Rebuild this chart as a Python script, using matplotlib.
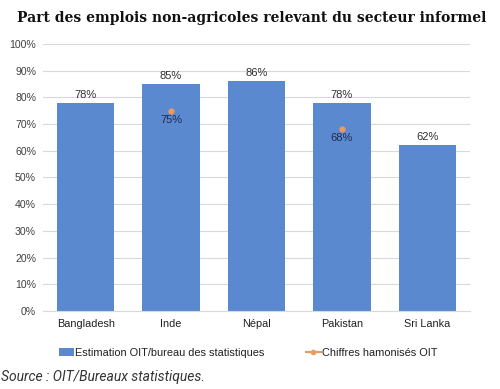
import numpy as np
import matplotlib
matplotlib.use('Agg')
import matplotlib.pyplot as plt
from matplotlib.lines import Line2D
from matplotlib.patches import Patch

countries = ['Bangladesh', 'Inde', 'Népal', 'Pakistan', 'Sri Lanka']
estimation = [78, 85, 86, 78, 62]
harmonised = [np.nan, 75, np.nan, 68, np.nan]
yticks = list(range(0, 101, 10))

bar_color = '#5b89cf'
dot_color = '#ed9a5c'
text_color = '#404040'

fig = plt.figure(figsize=(5.0, 3.89), dpi=100)
fig.patch.set_facecolor('white')
ax = fig.add_axes([0.086, 0.2005, 0.854, 0.6865])

x = np.arange(len(countries))
ax.bar(x, estimation, width=0.67, color=bar_color, zorder=2)
ax.plot(x, harmonised, marker='o', markersize=3.5, color=dot_color, linestyle='none', zorder=3)

for xi, v in zip(x, estimation):
    ax.text(xi, v + 1.2, f'{v}%', ha='center', va='bottom', fontsize=8,
            family='Liberation Sans', color='#303030')
for xi, v in zip(x, harmonised):
    if not np.isnan(v):
        ax.text(xi, v - 1.5, f'{int(v)}%', ha='center', va='top', fontsize=8,
                family='Liberation Sans', color='#1f2f50')

ax.set_xlim(-0.5, len(countries) - 0.5)
ax.set_ylim(0, 100)
ax.set_yticks(yticks)
ax.set_yticklabels([f'{t}%' for t in yticks], fontsize=7.6, family='Liberation Sans', color=text_color)
ax.set_xticks(x)
ax.set_xticklabels(countries, fontsize=7.8, family='Liberation Sans', color='#202020')
ax.tick_params(axis='both', length=0, pad=6)
ax.tick_params(axis='y', pad=5)
ax.grid(axis='y', color='#d9d9d9', linewidth=0.8, zorder=0)
for side in ['top', 'right', 'left']:
    ax.spines[side].set_visible(False)
ax.spines['bottom'].set_color('#d9d9d9')

fig.text(0.504, 0.955, 'Part des emplois non-agricoles relevant du secteur informel',
         ha='center', va='center', fontsize=10, fontweight='bold',
         family='DejaVu Serif', color='#111111')

handles = [Patch(facecolor=bar_color, label='Estimation OIT/bureau des statistiques'),
           Line2D([0], [0], color=dot_color, marker='o', markersize=3, linewidth=1.5,
                  label='Chiffres hamonisés OIT')]
leg = fig.legend(handles=handles, loc='center', bbox_to_anchor=(0.497, 0.093), ncol=2,
                 frameon=False, columnspacing=3.8, handlelength=1.3,
                 handletextpad=0.15, prop={'family': 'Liberation Sans', 'size': 7.9})
for t in leg.get_texts():
    t.set_color('#202020')

fig.text(0.002, 0.03, 'Source : OIT/Bureaux statistiques.', ha='left', va='center',
         fontsize=10, style='italic', family='Roboto', color='#333333')

fig.savefig('out.png', dpi=100)
